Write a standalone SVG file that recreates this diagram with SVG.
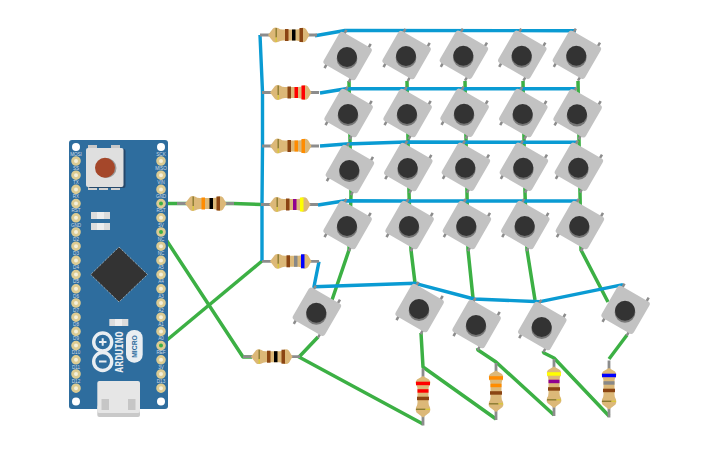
<svg xmlns="http://www.w3.org/2000/svg" xmlns:xlink="http://www.w3.org/1999/xlink" width="725" height="453" viewBox="0 0 725 453">
<style>
.g{fill:none;stroke:#3cb044;stroke-width:3.500;stroke-linejoin:round}
.b{fill:none;stroke:#0a9bd3;stroke-width:3.400;stroke-linejoin:round}
.lead{stroke:#8c8c8c;stroke-width:2.800}
.body{fill:#dcb878}
.tol{fill:#8a7a30}
.tol2{fill:#d9c83a}
.pin{fill:#f4f0dc;stroke:#dccb92;stroke-width:2.800}
.on{fill:#3cb044;stroke:#dccb92;stroke-width:2.800}
.lbl{font:4.6px "Liberation Sans",Arial,sans-serif;fill:#cfdbe6;text-anchor:middle}
.hole{fill:#fff}
.part{fill:#dcdcdc}
.partm{fill:#eeeeee}
.brown{fill:#8b4513}.red{fill:#f00}.orange{fill:#ff8c00}.yellow{fill:#ff0}.black{fill:#000}.grey{fill:#888}.blue{fill:#00f}.purple{fill:#900090}
</style>
<defs>
<g id="btn">
<g transform="translate(0.6,-1) rotate(30)">
<rect x="-15.200" y="-22" width="2.500" height="5" fill="#8c8c8c"/>
<rect x="12.700" y="-22" width="2.500" height="5" fill="#8c8c8c"/>
<rect x="-15.200" y="17" width="2.500" height="5" fill="#8c8c8c"/>
<rect x="12.700" y="17" width="2.500" height="5" fill="#8c8c8c"/>
<rect x="-18.500" y="-18.500" width="37" height="37" rx="3" fill="#c2c2c2"/>
</g>
<circle cx="0" cy="1.800" r="10.300" fill="#777"/>
<circle cx="0" cy="0" r="10" fill="#333"/>
</g>
<g id="resbase">
<line class="lead" x1="0" y1="0" x2="57" y2="0"/>
<path class="body" d="M8 0L13 -6.500Q15 -8 18 -7Q20 -5.500 23 -5.500L36 -5.500Q39 -5.500 41 -7Q44 -8 46 -6L49.500 0L46 6Q44 8 41 7Q39 5.500 36 5.500L23 5.500Q20 5.500 18 7Q15 8 13 6.500Z"/>
<rect class="tol" x="15.500" y="-7" width="1.400" height="9.500"/>
<rect class="tol2" x="15.500" y="2.500" width="1.400" height="4.500"/>
</g>
</defs>

<g id="connectors">
<polyline class="g" points="349,81 350,139 351,195 349,250 332,300"/>
<polyline class="g" points="407,81 408,139 409,193 411,250 415,283"/>
<polyline class="g" points="465,81 466,139 467,193 468,250 473,298"/>
<polyline class="g" points="523,81 524,139 525,193 527,250 535,300"/>
<polyline class="g" points="578,81 579,139 580,193 581,250 608,302"/>
<polyline class="g" points="161,203.500 233,203.500 262,204.500"/>
<polyline class="g" points="161,232 243,357 252,357"/>
<polyline class="g" points="161,345 262,261"/>
<polyline class="g" points="318,337 299,357 423,424"/>
<polyline class="g" points="421,333 423,367 496,419"/>
<polyline class="g" points="477.500,348 478,350 496,362 554,415"/>
<polyline class="g" points="543,351 544,353 554,358 609,416"/>
<polyline class="g" points="627,335 609,359"/>
<polyline class="b" points="260,35 262.500,92 262.500,146 262,204 262,261"/>
<polyline class="b" points="315,35.700 345,30.500 576,30.700"/>
<polyline class="b" points="320,93 346,88.700 576,88.700"/>
<polyline class="b" points="320,146 346,144 406,142 577,142.300"/>
<polyline class="b" points="318,205 345,200.700 404,201 577,201"/>
<polyline class="b" points="319,261.700 314,286.700 415,283.300 474,299 540,301.700 623,284.700"/>
</g>

<g id="board">
<rect x="69" y="140" width="99" height="269" rx="3" fill="#2e6d9e"/>
<g>
<rect x="88" y="145" width="9" height="4" fill="#c8c8c8"/>
<rect x="111" y="145" width="9" height="4" fill="#c8c8c8"/>
<rect x="88" y="186" width="9" height="4" fill="#d2d2d2"/>
<rect x="99" y="186" width="9" height="4" fill="#d2d2d2"/>
<rect x="111" y="186" width="9" height="4" fill="#d2d2d2"/>
<rect x="88" y="149" width="37.500" height="39" rx="2" fill="#26486a"/>
<rect x="86" y="148" width="37.500" height="39" rx="2" fill="#dfdfdf"/>
<circle cx="106.500" cy="168" r="10" fill="#9a9a9a"/>
<circle cx="105" cy="167.700" r="10" fill="#a5472a"/>
</g>
<rect class="part" x="91" y="212" width="19" height="7"/><rect class="partm" x="97" y="212" width="7" height="7"/>
<rect class="part" x="91" y="223" width="19" height="7"/><rect class="partm" x="97" y="223" width="7" height="7"/>
<polygon points="119,247 147.500,274.500 119,302 90.700,274.500" fill="#333" stroke="#dfe8ee" stroke-width="0.800" stroke-dasharray="1 1.200"/>
<rect class="part" x="109.300" y="319" width="19" height="7"/><rect class="partm" x="115" y="319" width="7" height="7"/>
<g fill="none" stroke="#e9eef2" stroke-width="3.400">
<circle cx="102.700" cy="342" r="9"/>
<circle cx="102.700" cy="361.500" r="9"/>
</g>
<path d="M99 342H106.500M102.700 338.300V345.700M99 361.500H106.500" stroke="#e9eef2" stroke-width="2" fill="none"/>
<text transform="translate(123,352) rotate(-90)" font-family="'DejaVu Sans Mono',monospace" font-weight="700" font-size="9.800" fill="#e9eef2" text-anchor="middle">ARDUINO</text>
<rect x="126" y="330" width="16.700" height="32.700" rx="8" fill="#e9eef2"/>
<text transform="translate(136.500,346.500) rotate(-90)" font-family="'Liberation Sans',Arial,sans-serif" font-weight="700" font-size="6.800" fill="#2e6d9e" text-anchor="middle">MICRO</text>
<rect x="97.300" y="405" width="42.700" height="12" rx="2" fill="#c9c9c9"/>
<rect x="97.300" y="381" width="42.700" height="32" rx="2" fill="#e6e6e6"/>
<rect x="101.500" y="399" width="7.500" height="11" fill="#c6c6c6"/>
<rect x="128" y="399" width="7.500" height="11" fill="#c6c6c6"/>
<circle class="hole" cx="76" cy="147" r="4"/><circle class="hole" cx="161" cy="147" r="4"/>
<circle class="hole" cx="76" cy="401.500" r="4"/><circle class="hole" cx="161" cy="401.500" r="4"/>
<g id="pins-left">
<circle class="pin" cx="76" cy="161" r="3.400"/><circle class="pin" cx="76" cy="175.200" r="3.400"/><circle class="pin" cx="76" cy="189.400" r="3.400"/><circle class="pin" cx="76" cy="203.600" r="3.400"/><circle class="pin" cx="76" cy="217.800" r="3.400"/><circle class="pin" cx="76" cy="232" r="3.400"/><circle class="pin" cx="76" cy="246.200" r="3.400"/><circle class="pin" cx="76" cy="260.400" r="3.400"/><circle class="pin" cx="76" cy="274.600" r="3.400"/><circle class="pin" cx="76" cy="288.800" r="3.400"/><circle class="pin" cx="76" cy="303" r="3.400"/><circle class="pin" cx="76" cy="317.200" r="3.400"/><circle class="pin" cx="76" cy="331.400" r="3.400"/><circle class="pin" cx="76" cy="345.600" r="3.400"/><circle class="pin" cx="76" cy="359.800" r="3.400"/><circle class="pin" cx="76" cy="374" r="3.400"/><circle class="pin" cx="76" cy="388.200" r="3.400"/>
<text class="lbl" x="76" y="155.500">MOSI</text><text class="lbl" x="76" y="169.700">SS</text><text class="lbl" x="76" y="183.900">TX</text><text class="lbl" x="76" y="198.100">RX</text><text class="lbl" x="76" y="212.300">RST</text><text class="lbl" x="76" y="226.500">GND</text><text class="lbl" x="76" y="240.700">D2</text><text class="lbl" x="76" y="254.900">D3</text><text class="lbl" x="76" y="269.100">D4</text><text class="lbl" x="76" y="283.300">D5</text><text class="lbl" x="76" y="297.500">D6</text><text class="lbl" x="76" y="311.700">D7</text><text class="lbl" x="76" y="325.900">D8</text><text class="lbl" x="76" y="340.100">D9</text><text class="lbl" x="76" y="354.300">D10</text><text class="lbl" x="76" y="368.500">D11</text><text class="lbl" x="76" y="382.700">D12</text>
</g>
<g id="pins-right">
<circle class="pin" cx="161" cy="161" r="3.400"/><circle class="pin" cx="161" cy="175.200" r="3.400"/><circle class="pin" cx="161" cy="189.400" r="3.400"/><circle class="on" cx="161" cy="203.600" r="3.400"/><circle class="pin" cx="161" cy="217.800" r="3.400"/><circle class="on" cx="161" cy="232" r="3.400"/><circle class="pin" cx="161" cy="246.200" r="3.400"/><circle class="pin" cx="161" cy="260.400" r="3.400"/><circle class="pin" cx="161" cy="274.600" r="3.400"/><circle class="pin" cx="161" cy="288.800" r="3.400"/><circle class="pin" cx="161" cy="303" r="3.400"/><circle class="pin" cx="161" cy="317.200" r="3.400"/><circle class="pin" cx="161" cy="331.400" r="3.400"/><circle class="on" cx="161" cy="345.600" r="3.400"/><circle class="pin" cx="161" cy="359.800" r="3.400"/><circle class="pin" cx="161" cy="374" r="3.400"/><circle class="pin" cx="161" cy="388.200" r="3.400"/>
<text class="lbl" x="161" y="155.500">SCK</text><text class="lbl" x="161" y="169.700">MISO</text><text class="lbl" x="161" y="183.900">VIN</text><text class="lbl" x="161" y="198.100">GND</text><text class="lbl" x="161" y="212.300">RST</text><text class="lbl" x="161" y="226.500">5V</text><text class="lbl" x="161" y="240.700">NC</text><text class="lbl" x="161" y="254.900">NC</text><text class="lbl" x="161" y="269.100">A5</text><text class="lbl" x="161" y="283.300">A4</text><text class="lbl" x="161" y="297.500">A3</text><text class="lbl" x="161" y="311.700">A2</text><text class="lbl" x="161" y="325.900">A1</text><text class="lbl" x="161" y="340.100">A0</text><text class="lbl" x="161" y="354.300">REF</text><text class="lbl" x="161" y="368.500">3V</text><text class="lbl" x="161" y="382.700">D13</text>
</g>
</g>

<g id="r1" transform="translate(260,35)"><use href="#resbase"/><rect class="brown" x="25" y="-6" width="3.500" height="12"/><rect class="black" x="32" y="-5.500" width="3.500" height="11"/><rect class="brown" x="39.500" y="-7" width="3.500" height="14"/></g>
<g id="r2" transform="translate(262,92.500)"><use href="#resbase"/><rect class="brown" x="25.500" y="-6" width="3.500" height="12"/><rect class="red" x="32.500" y="-5.500" width="3.500" height="11"/><rect class="red" x="39.500" y="-7" width="3.500" height="14"/></g>
<g id="r3" transform="translate(262,146)"><use href="#resbase"/><rect class="brown" x="25.500" y="-6" width="3.500" height="12"/><rect class="orange" x="32.500" y="-5.500" width="3.500" height="11"/><rect class="orange" x="39.500" y="-7" width="3.500" height="14"/></g>
<g id="r4" transform="translate(261,204.500)"><use href="#resbase"/><rect class="brown" x="25" y="-6" width="3.500" height="12"/><rect class="purple" x="32" y="-5.500" width="3.500" height="11"/><rect class="yellow" x="39" y="-7" width="3.500" height="14"/></g>
<g id="r5" transform="translate(262,261.300)"><use href="#resbase"/><rect class="brown" x="24.500" y="-6" width="3.500" height="12"/><rect class="grey" x="32" y="-5.500" width="3.500" height="11"/><rect class="blue" x="39" y="-7" width="3.500" height="14"/></g>
<g id="r6" transform="translate(243,356.700)"><use href="#resbase"/><rect class="brown" x="24" y="-6" width="3.500" height="12"/><rect class="black" x="31" y="-5.500" width="3.500" height="11"/><rect class="brown" x="38.500" y="-7" width="3.500" height="14"/></g>
<g id="r7" transform="translate(177,203.500)"><use href="#resbase"/><rect class="orange" x="24.500" y="-6" width="3.500" height="12"/><rect class="black" x="32.500" y="-5.500" width="3.500" height="11"/><rect class="brown" x="39.500" y="-7" width="3.500" height="14"/></g>
<g id="r8" transform="translate(423,425.500) rotate(-90)"><use href="#resbase"/><rect class="brown" x="25.300" y="-6" width="3.500" height="12"/><rect class="red" x="32.800" y="-5.500" width="3.500" height="11"/><rect class="red" x="40.300" y="-7" width="3.500" height="14"/></g>
<g id="r9" transform="translate(496,420) rotate(-90)"><use href="#resbase"/><rect class="brown" x="25.300" y="-6" width="3.500" height="12"/><rect class="orange" x="32.800" y="-5.500" width="3.500" height="11"/><rect class="orange" x="40.300" y="-7" width="3.500" height="14"/></g>
<g id="r10" transform="translate(554,416) rotate(-90)"><use href="#resbase"/><rect class="brown" x="25.300" y="-6" width="3.500" height="12"/><rect class="purple" x="32.800" y="-5.500" width="3.500" height="11"/><rect class="yellow" x="40.300" y="-7" width="3.500" height="14"/></g>
<g id="r11" transform="translate(609,417.500) rotate(-90)"><use href="#resbase"/><rect class="brown" x="25.300" y="-6" width="3.500" height="12"/><rect class="grey" x="32.800" y="-5.500" width="3.500" height="11"/><rect class="blue" x="40.300" y="-7" width="3.500" height="14"/></g>

<use id="b11" href="#btn" x="347" y="57"/><use id="b12" href="#btn" x="406" y="56"/><use id="b13" href="#btn" x="463.300" y="55.700"/><use id="b14" href="#btn" x="521.700" y="55.700"/><use id="b15" href="#btn" x="576.300" y="55.700"/>
<use id="b21" href="#btn" x="348" y="114"/><use id="b22" href="#btn" x="407" y="114"/><use id="b23" href="#btn" x="464" y="113.700"/><use id="b24" href="#btn" x="522.700" y="114"/><use id="b25" href="#btn" x="577" y="114.300"/>
<use id="b31" href="#btn" x="349.300" y="170"/><use id="b32" href="#btn" x="407.700" y="168"/><use id="b33" href="#btn" x="465.300" y="167.700"/><use id="b34" href="#btn" x="523.300" y="167.700"/><use id="b35" href="#btn" x="578.300" y="167.700"/>
<use id="b41" href="#btn" x="347" y="226"/><use id="b42" href="#btn" x="409" y="226"/><use id="b43" href="#btn" x="466.300" y="226"/><use id="b44" href="#btn" x="524.700" y="226"/><use id="b45" href="#btn" x="579.300" y="226"/>
<use id="b51" href="#btn" x="316.300" y="312.700"/><use id="b52" href="#btn" x="419" y="309"/><use id="b53" href="#btn" x="476" y="325"/><use id="b54" href="#btn" x="541.700" y="327"/><use id="b55" href="#btn" x="625" y="310.700"/>
</svg>
